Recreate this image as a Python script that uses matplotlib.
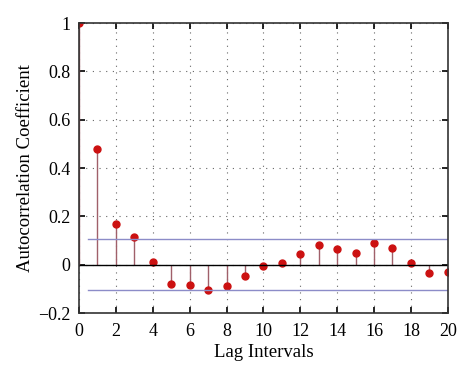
import matplotlib.pyplot as plt
import numpy as np

plt.rcParams['font.family'] = ['Liberation Serif', 'DejaVu Serif']

# ACF values
lags = np.arange(0, 21)
acf = [1.0, 0.48, 0.17, 0.115, 0.01, -0.08, -0.085, -0.105, -0.09, -0.045,
       -0.005, 0.008, 0.045, 0.08, 0.065, 0.05, 0.09, 0.07, 0.008, -0.033, -0.03]
conf = 0.105  # confidence bound

fig = plt.figure(figsize=(4.74, 3.79), dpi=100)
ax = fig.add_axes([0.1667, 0.174, 0.778, 0.765])

markers, stems, base = ax.stem(lags, acf)
plt.setp(stems, color='#a0606a', linewidth=1.0)
plt.setp(markers, color='#cc1111', markersize=5)
plt.setp(base, color='black', linewidth=1.0)

ax.plot([0.5, 20], [conf, conf], color='#8c8cc8', linewidth=1.0)
ax.plot([0.5, 20], [-conf, -conf], color='#8c8cc8', linewidth=1.0)

ax.set_xlim(0, 20)
ax.set_ylim(-0.2, 1)
ax.set_xticks(range(0, 21, 2))
ax.set_yticks([-0.2, 0, 0.2, 0.4, 0.6, 0.8, 1])
ax.set_yticklabels(['\u22120.2', '0', '0.2', '0.4', '0.6', '0.8', '1'])
ax.tick_params(direction='in', top=True, right=True, labelsize=13, length=4, width=1.2)
ax.tick_params(axis='x', pad=7)
ax.tick_params(axis='y', pad=6)
ax.grid(True, linestyle=(0, (1, 5)), color='#666666', linewidth=0.8)
for s in ax.spines.values():
    s.set_color('#333333')
    s.set_linewidth(1.2)

ax.set_xlabel('Lag Intervals', fontsize=13.5, labelpad=3)
ax.set_ylabel('Autocorrelation Coefficient', fontsize=13.5, labelpad=3)

fig.savefig('out.png')
